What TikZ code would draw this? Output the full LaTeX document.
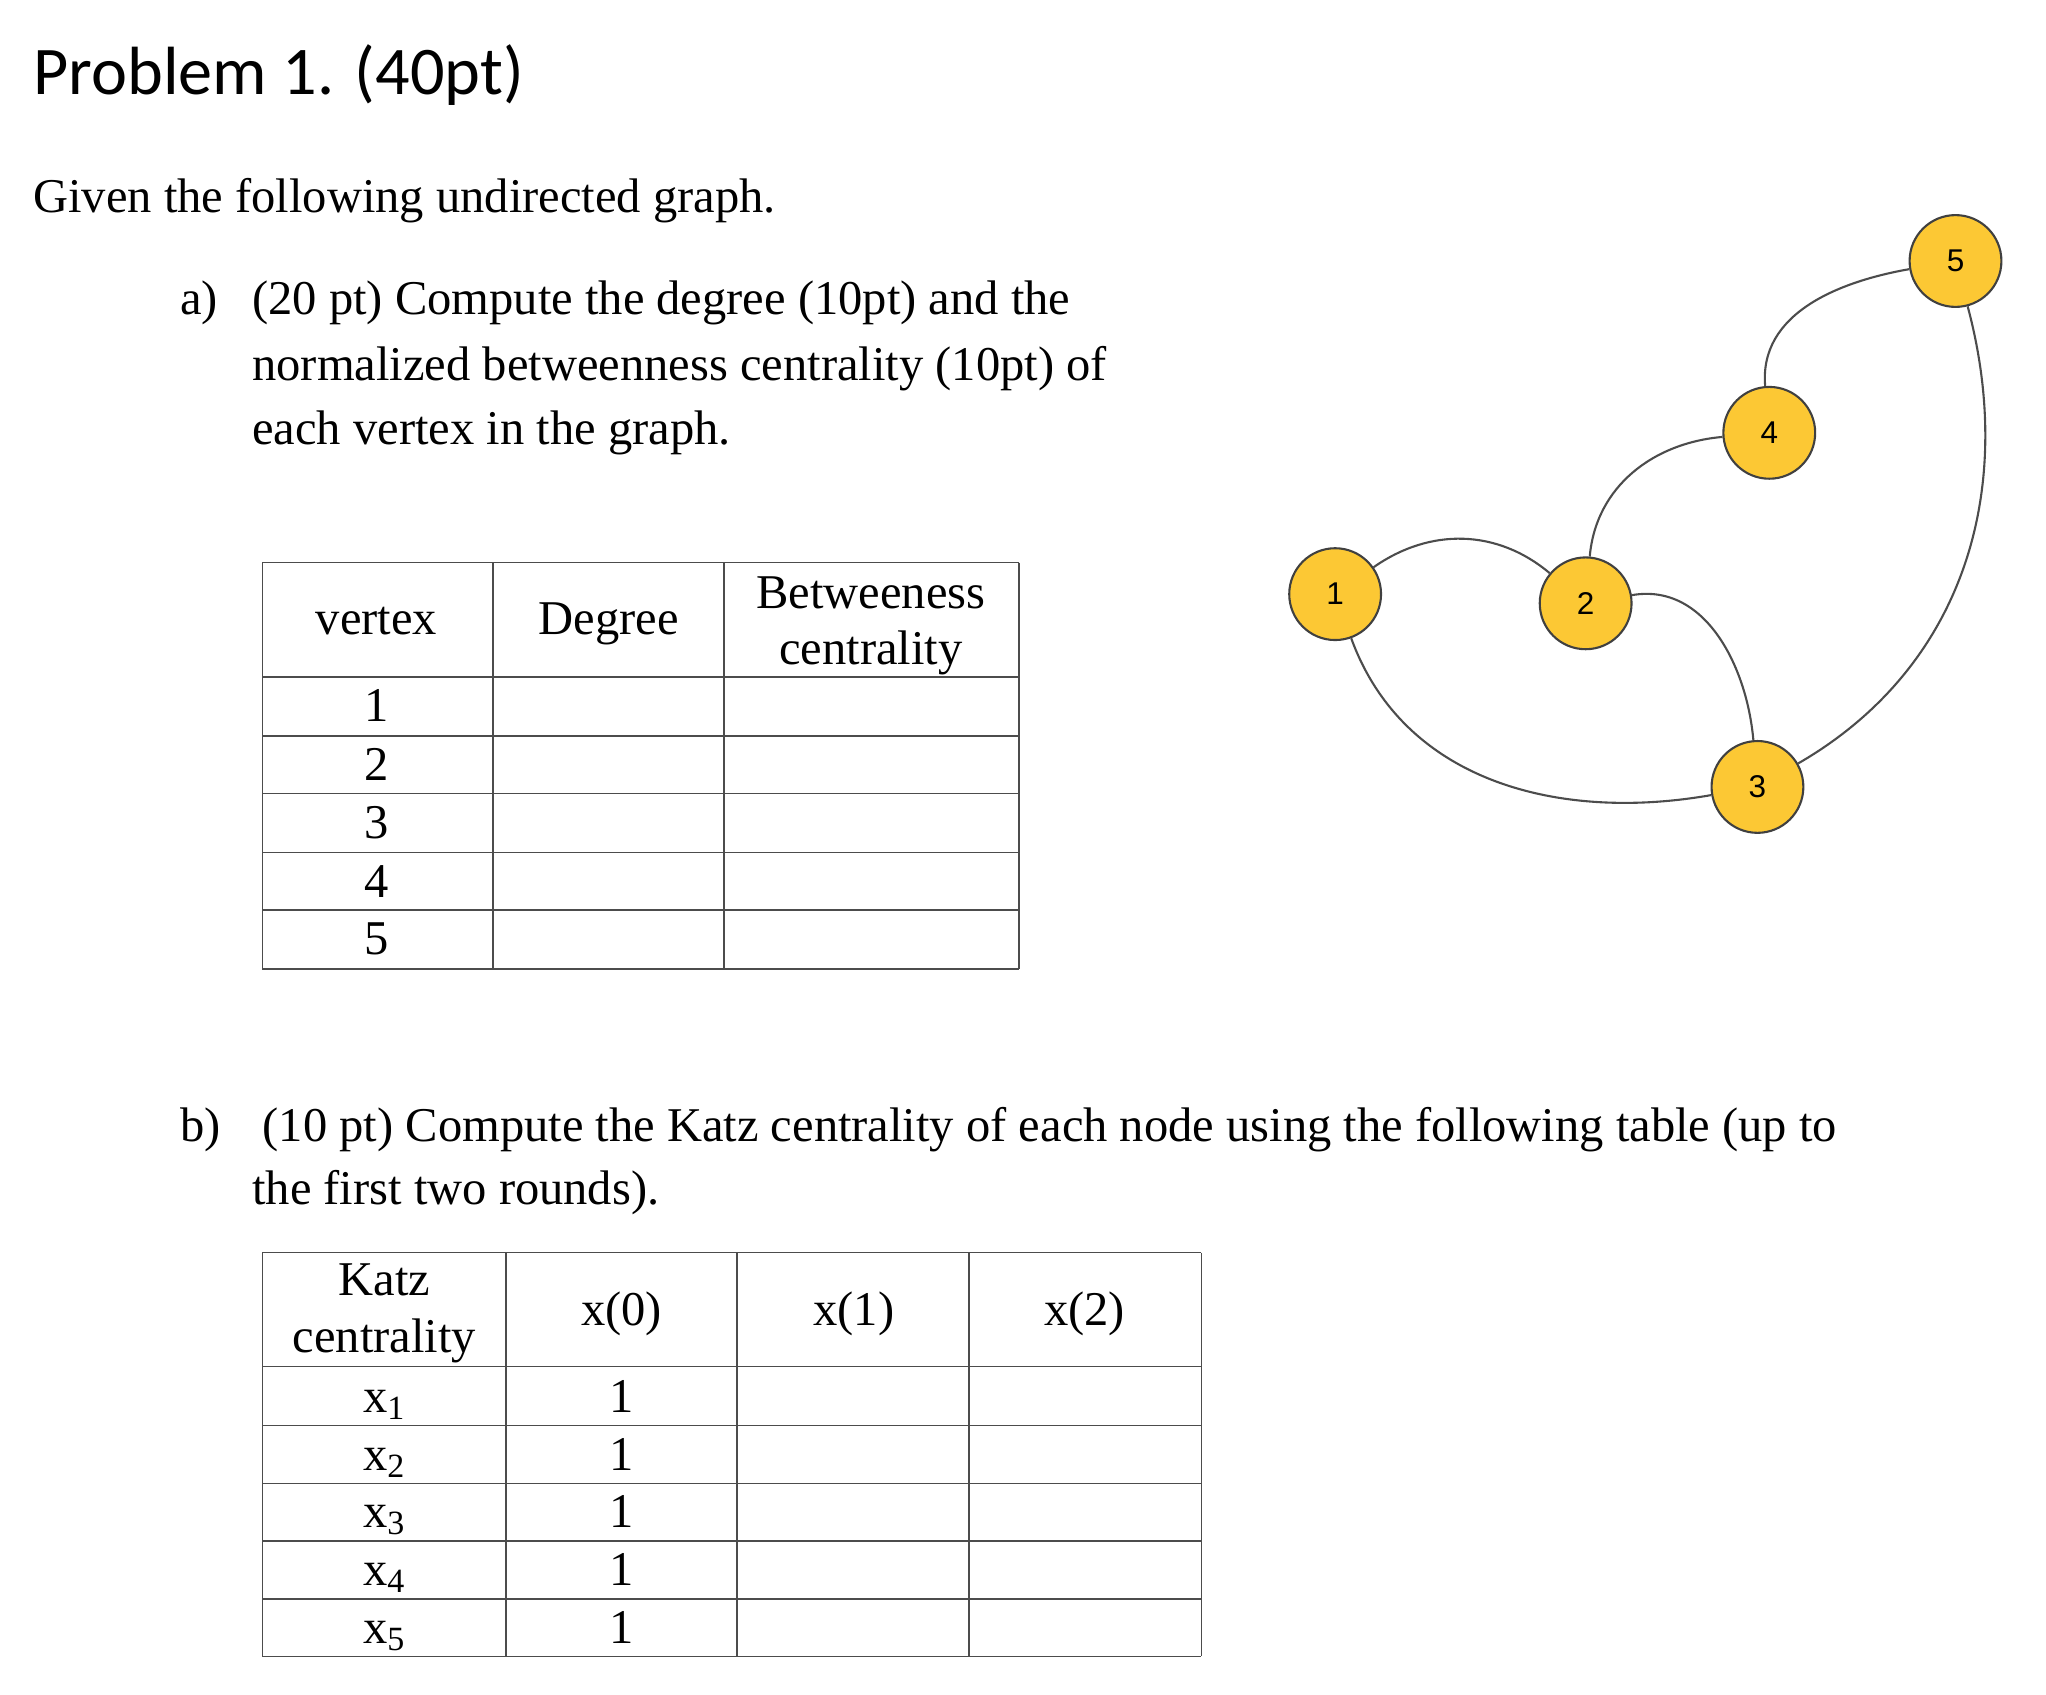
\documentclass[tikz,border=0pt]{standalone}
\usepackage{fontspec}
\setmainfont{Liberation Serif}
\newfontfamily\titlefont{Carlito}
\newfontfamily\nodefont{Liberation Sans}
\begin{document}
\begin{tikzpicture}[x=0.5pt,y=-0.5pt,
  txt/.style={anchor=base west,inner sep=0,font=\fontsize{18.5}{22}\selectfont},
  cell/.style={anchor=base,inner sep=0,font=\fontsize{18.5}{22}\selectfont},
  vtx/.style={circle,draw=black!75,line width=0.8pt,fill={rgb,255:red,252;green,200;blue,52},minimum size=35pt,inner sep=0,font=\nodefont\fontsize{12}{14}\selectfont},
  edge/.style={draw=black!70,line width=0.8pt},
  grid/.style={draw=black!70,line width=0.6pt}]
\useasboundingbox (0,0) rectangle (1560,1292);
\node[txt,font=\titlefont\fontsize{26}{32}\selectfont] (title) at (25,72) {Problem 1. (40pt)};
\node[txt] (given) at (25,162) {Given the following undirected graph.};
\node[txt] (la) at (137,240) {a)};
\node[txt] (a1) at (192,240) {(20 pt) Compute the degree (10pt) and the};
\node[txt] (a2) at (192,290) {normalized betweenness centrality (10pt) of};
\node[txt] (a3) at (192,339) {each vertex in the graph.};
% table 1
\foreach \y in {429,516,561,605,650,694,739} \draw[grid] (200,\y) -- (777,\y);
\foreach \x in {200,376,552,777} \draw[grid] (\x,429) -- (\x,739);
\node[cell] (h1) at (287,484) {vertex};
\node[cell] (h2) at (464,484) {Degree};
\node[cell] (h3a) at (664,464) {Betweeness};
\node[cell] (h3b) at (664,507) {centrality};
\foreach \i/\y in {1/550,2/595,3/639,4/684,5/728} \node[cell] (v\i) at (287,\y) {\i};
\node[txt] (lb) at (137,870) {b)};
\node[txt] (b1) at (200,870) {(10 pt) Compute the Katz centrality of each node using the following table (up to};
\node[txt] (b2) at (192,918) {the first two rounds).};
% table 2
\foreach \y in {955,1042,1087,1131,1175,1219,1263} \draw[grid] (200,\y) -- (916,\y);
\foreach \x in {200,386,562,739,916} \draw[grid] (\x,955) -- (\x,1263);
\node[cell] (k1) at (293,988) {Katz};
\node[cell] (k2) at (293,1031) {centrality};
\node[cell] (x0) at (474,1011) {x(0)};
\node[cell] (x1) at (651,1011) {x(1)};
\node[cell] (x2) at (827,1011) {x(2)};
\foreach \i/\y in {1/1077,2/1121,3/1165,4/1209,5/1253} {
  \node[cell] (r\i) at (293,\y) {x\textsubscript{\i}};
  \node[cell] (o\i) at (474,\y) {1};}
% graph
\node[vtx] (n1) at (1018,453) {1};
\node[vtx] (n2) at (1209,460) {2};
\node[vtx] (n3) at (1340,600) {3};
\node[vtx] (n4) at (1349,330) {4};
\node[vtx] (n5) at (1491,199) {5};
\draw[edge] (n1) to[out=35,in=140] (n2);
\draw[edge] (n2) to[out=85,in=185] (n4);
\draw[edge] (n4) to[out=95,in=190] (n5);
\draw[edge] (n2) to[out=10,in=95] (n3);
\draw[edge] (n1) to[out=-70,in=190] (n3);
\draw[edge] (n5) to[out=-75,in=30] (n3);
\end{tikzpicture}
\end{document}
